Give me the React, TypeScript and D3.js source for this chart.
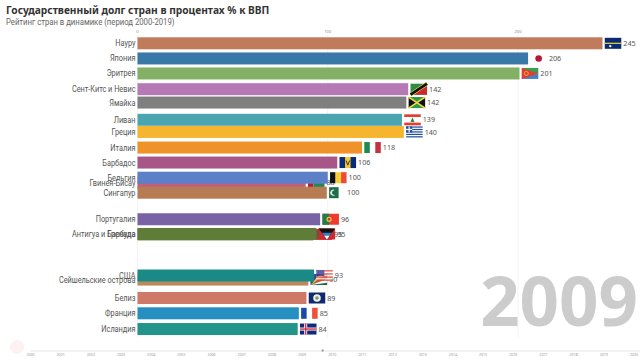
import React from "react";
import * as d3 from "d3";

const width = 640;
const height = 360;

const titleText = "Государственный долг стран в процентах % к ВВП";
const subtitleText = "Рейтинг стран в динамике (период 2000-2019)";
const currentYear = "2009";

// draw order follows the reference's overlaps
const countries = ["Науру","Япония","Эритрея","Сент-Китс и Невис","Ямайка","Ливан","Греция","Италия","Барбадос","Гвинея-Бисау","Бельгия","Сингапур","Португалия","Гренада","Антигуа и Барбуда","Сейшельские острова","США","Белиз","Франция","Исландия"];
const flagCodes = ["nr","jp","er","kn","jm","lb","gr","it","bb","gw","be","sg","pt","gd","ag","sc","us","bz","fr","is"];
const barValues = [244.4,205.3,200.8,142.3,141.3,139,140,118,105,88.4,100,99.5,96,92.4,94,89.8,92.8,88.8,84.8,84.2];
const valueLabels = ["245","206","201","142","142","139","140","118","106","88","100","100","96","95","95","90","93","89","85","84"];
const animatedRanks = [1,2.01,3.01,4.06,4.95,6.1,6.91,7.95,8.95,10.3,9.96,10.96,12.73,13.74,13.71,16.75,16.48,17.98,19,20.05];
const barColors = ["#c07a5c","#3a78a8","#84b065","#b679b5","#7f7f7f","#4aa5b0","#f5b52e","#ef9229","#a85688","#c0607a","#5b80c8","#b87c55","#7a63a5","#5f7d38","#5f7d38","#bb8a5c","#1a8a86","#cf7a68","#2590c0","#23948a"];

const axisTicks = [0, 100, 200];
const timelineYears = d3.range(2000, 2021);
const timelinePosition = 2009.68;

const x = d3.scaleLinear().domain([0, 200]).range([137.5, 518]);
const y = d3.scaleLinear().domain([1, 20]).range([43.3, 328.3]);
const tx = d3.scaleLinear().domain([2000, 2020]).range([30.5, 634]);

const BAR_H = 12;
const FLAG_W = 16.5;
const FLAG_H = 11;

function Flag({ code }: { code: string }) {
  const w = FLAG_W, h = FLAG_H;
  const R = (p: { x?: number; y?: number; w: number; h: number; f: string }) => (
    <rect x={p.x ?? 0} y={p.y ?? 0} width={p.w} height={p.h} fill={p.f} />
  );
  switch (code) {
    case "nr":
      return (<g><R w={w} h={h} f="#0a2a70" /><R y={4.9} w={w} h={1.2} f="#f4d24a" /><circle cx={5.5} cy={8.3} r={1.2} fill="#fff" /></g>);
    case "jp":
      return (<g><R w={w} h={h} f="#fff" /><circle cx={w / 2} cy={h / 2} r={3.3} fill="#bc1438" /></g>);
    case "er":
      return (<g><R w={w} h={h / 2} f="#3aa050" /><R y={h / 2} w={w} h={h / 2} f="#4a80c8" /><polygon points={`0,0 ${w},${h / 2} 0,${h}`} fill="#e0402e" /><circle cx={4.5} cy={h / 2} r={2} fill="none" stroke="#f4d24a" strokeWidth={0.7} /></g>);
    case "kn":
      return (<g><R w={w} h={h} f="#2e8b44" /><polygon points={`${w},0 ${w},${h} 0,${h}`} fill="#ce2a2e" /><line x1={0} y1={h} x2={w} y2={0} stroke="#f6d94a" strokeWidth={4} /><line x1={0} y1={h} x2={w} y2={0} stroke="#111" strokeWidth={2.8} /></g>);
    case "jm":
      return (<g><R w={w} h={h} f="#111" /><polygon points={`0,0 ${w},0 ${w / 2},${h / 2}`} fill="#2f9a44" /><polygon points={`0,${h} ${w},${h} ${w / 2},${h / 2}`} fill="#2f9a44" /><line x1={0} y1={0} x2={w} y2={h} stroke="#f6d94a" strokeWidth={1.6} /><line x1={0} y1={h} x2={w} y2={0} stroke="#f6d94a" strokeWidth={1.6} /></g>);
    case "lb":
      return (<g><R w={w} h={h} f="#fff" /><R w={w} h={2.7} f="#e0402e" /><R y={h - 2.7} w={w} h={2.7} f="#e0402e" /><polygon points={`${w / 2},3 ${w / 2 + 2},7.6 ${w / 2 - 2},7.6`} fill="#2f8a50" /></g>);
    case "gr":
      return (<g><R w={w} h={h} f="#fff" />{d3.range(0, 5).map((i) => <R key={i} y={(i * 2 * h) / 9} w={w} h={h / 9} f="#1f4fa0" />)}<R w={6} h={6} f="#1f4fa0" /><R x={2.4} w={1.2} h={6} f="#fff" /><R y={2.4} w={6} h={1.2} f="#fff" /></g>);
    case "it":
      return (<g><R w={w} h={h} f="#fff" /><R w={w / 3} h={h} f="#1f8a50" /><R x={(2 * w) / 3} w={w / 3} h={h} f="#c83040" /></g>);
    case "bb":
      return (<g><R w={w} h={h} f="#f6c82e" /><R w={w / 3} h={h} f="#0a2a7a" /><R x={(2 * w) / 3} w={w / 3} h={h} f="#0a2a7a" /><path d={`M${w / 2 - 1.8},3.5 L${w / 2},8 L${w / 2 + 1.8},3.5`} fill="none" stroke="#222" strokeWidth={0.9} /></g>);
    case "gw":
      return (<g><R w={w / 3} h={h} f="#b8202e" /><R x={w / 3} w={(2 * w) / 3} h={h / 2} f="#f6c82e" /><R x={w / 3} y={h / 2} w={(2 * w) / 3} h={h / 2} f="#1f8a50" /></g>);
    case "be":
      return (<g><R w={w / 3} h={h} f="#111" /><R x={w / 3} w={w / 3} h={h} f="#f6d030" /><R x={(2 * w) / 3} w={w / 3} h={h} f="#ee4a38" /></g>);
    case "sg":
      return (<g><R w={9.5} h={h} f="#1c6e4a" /><path d="M6,3.2 A2.4,2.4 0 1 0 6,7.8 A3,3 0 1 1 6,3.2" fill="#dfe9e0" /></g>);
    case "pt":
      return (<g><R w={w} h={h} f="#ee3b2e" /><R w={w * 0.4} h={h} f="#1f7f4a" /><circle cx={w * 0.4} cy={h / 2} r={2.6} fill="#e8c84a" /><circle cx={w * 0.4} cy={h / 2} r={1.3} fill="#d03030" /></g>);
    case "gd":
      return (<g><R w={w} h={h} f="#cf2a30" /><R x={1.6} y={1.6} w={w - 3.2} h={h - 3.2} f="#1c7a4a" /></g>);
    case "ag":
      return (<g><R w={w} h={h} f="#ce2a2e" /><polygon points={`0,0 ${w},0 ${w / 2},${h}`} fill="#111" /><polygon points={`${w * 0.2},4.4 ${w * 0.8},4.4 ${w / 2},${h}`} fill="#3a78c0" /><polygon points={`${w * 0.34},7.2 ${w * 0.66},7.2 ${w / 2},${h}`} fill="#fff" /></g>);
    case "sc":
      return (<g><R w={w} h={h} f="#1c6e4a" /><polygon points={`0,${h} ${w * 0.55},0 0,0`} fill="#2a4ea0" /><polygon points={`0,${h} ${w * 0.55},0 ${w},0`} fill="#f5c83a" /><polygon points={`0,${h} ${w},0 ${w},${h * 0.45}`} fill="#d84a3e" /><polygon points={`0,${h} ${w},${h * 0.45} ${w},${h * 0.8}`} fill="#fff" /></g>);
    case "us":
      return (<g opacity={0.75}><R w={w} h={h} f="#fff" />{d3.range(0, 4).map((i) => <R key={i} y={(i * 2 * h) / 7} w={w} h={h / 7} f="#e0483e" />)}<R w={8} h={6} f="#2a2a90" /></g>);
    case "bz":
      return (<g><R w={w} h={h} f="#0f2a6e" /><circle cx={w / 2} cy={h / 2} r={3.8} fill="#eef0e6" /><circle cx={w / 2} cy={h / 2} r={1.8} fill="#7a9a6a" /></g>);
    case "fr":
      return (<g><R w={w} h={h} f="#fff" /><R w={w / 3} h={h} f="#1b49a8" /><R x={(2 * w) / 3} w={w / 3} h={h} f="#ee4f38" /></g>);
    case "is":
      return (<g><R w={w} h={h} f="#14287a" /><R x={4.2} w={3} h={h} f="#fff" /><R y={4} w={w} h={3} f="#fff" /><R x={5} w={1.4} h={h} f="#d0304a" /><R y={4.8} w={w} h={1.4} f="#d0304a" /></g>);
    default:
      return null;
  }
}

export default function App() {
  const font = "'Noto Sans', sans-serif";
  const condensed = "Roboto, sans-serif";
  return (
    <svg width={width} height={height} style={{ position: "absolute", left: 0, top: 0, background: "#fff" }} fontFamily={font}>
      <text x={6} y={14} fontSize={10.2} fontWeight={700} fill="#333">{titleText}</text>
      <text transform="translate(6,25) scale(0.88,1)" fontSize={8.8} fill="#666" fontFamily={condensed}>{subtitleText}</text>

      {axisTicks.map((t) => (
        <g key={t}>
          <line x1={x(t)} x2={x(t)} y1={35} y2={338} stroke="#eeeeee" strokeWidth={0.7} />
          <text x={x(t)} y={33} fontSize={4} fill="#888" textAnchor="middle">{t}</text>
        </g>
      ))}

      <text x={638} y={326} fontSize={69} fontWeight={700} fill="#cccccc" textAnchor="end">{currentYear}</text>

      {countries.map((c, i) => {
        const yc = y(animatedRanks[i]);
        const xe = x(barValues[i]);
        return (
          <g key={c}>
            <text transform={`translate(135.5,${yc + 3}) scale(0.895,1)`} fontSize={8.2} fill="#555" textAnchor="end" fontFamily={condensed}>{c}</text>
            <rect x={x(0)} y={yc - BAR_H / 2} width={xe - x(0)} height={BAR_H} fill={barColors[i]} />
            <g transform={`translate(${xe + 2.3},${yc - FLAG_H / 2})`}>
              <Flag code={flagCodes[i]} />
            </g>
            <text x={xe + 2.3 + (flagCodes[i] === "sg" ? 18 : FLAG_W + 2)} y={yc + 2.6} fontSize={7.2} fill="#555">{valueLabels[i]}</text>
          </g>
        );
      })}

      <circle cx={17} cy={347} r={7} fill="#fdf1f1" />
      <line x1={tx(2000)} x2={640} y1={351} y2={351} stroke="#dddddd" strokeWidth={0.7} />
      {timelineYears.map((yr) => (
        <text key={yr} x={tx(yr)} y={355.5} fontSize={3.6} fill="#999" textAnchor="middle">{yr}</text>
      ))}
      <rect x={tx(timelinePosition) - 1} y={349.5} width={2} height={2} fill="#999" />
    </svg>
  );
}
